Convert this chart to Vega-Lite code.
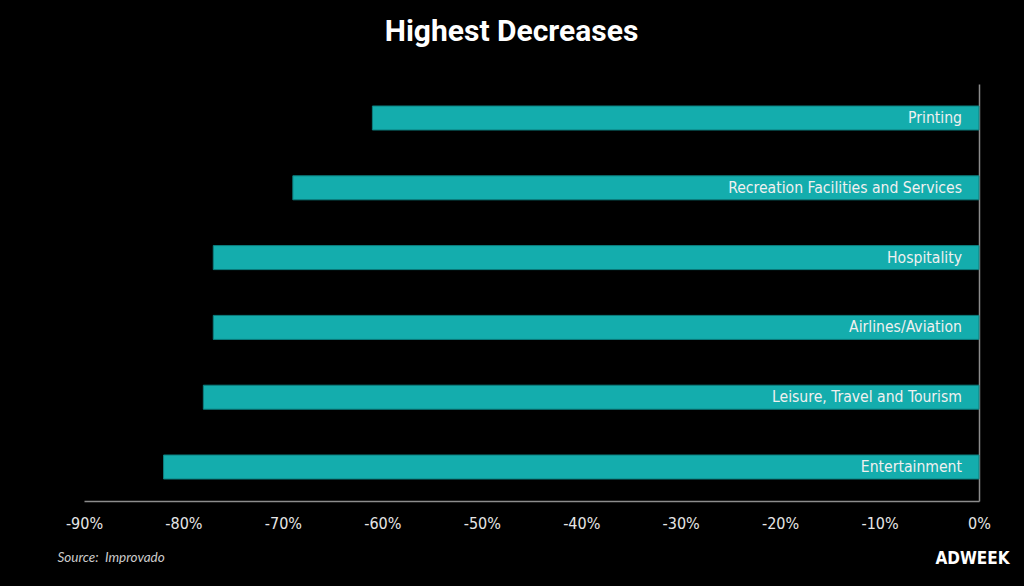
{
  "$schema": "https://vega.github.io/schema/vega-lite/v6.json",
  "width": 895,
  "height": 417,
  "autosize": {"type": "none"},
  "padding": {"left": 84, "top": 84, "right": 45, "bottom": 85},
  "background": "#000000",
  "title": {
    "text": "Highest Decreases",
    "anchor": "middle",
    "frame": "group",
    "dx": -20,
    "offset": 37,
    "font": "Roboto",
    "fontSize": 30,
    "fontWeight": "bold",
    "color": "#ffffff"
  },
  "data": {
    "values": [
      {"industry": "Printing", "change": -61},
      {"industry": "Recreation Facilities and Services", "change": -69},
      {"industry": "Hospitality", "change": -77},
      {"industry": "Airlines/Aviation", "change": -77},
      {"industry": "Leisure, Travel and Tourism", "change": -78},
      {"industry": "Entertainment", "change": -82}
    ]
  },
  "encoding": {
    "y": {
      "field": "industry",
      "type": "nominal",
      "sort": null,
      "scale": {"paddingInner": 0.656, "paddingOuter": 0.315},
      "axis": {
        "orient": "right",
        "labels": false,
        "ticks": false,
        "domainColor": "#8c8c8c",
        "domainWidth": 1.5,
        "title": "ADWEEK",
        "titleAngle": 0,
        "titleX": -7,
        "titleY": 474,
        "titleAlign": "center",
        "titleBaseline": "middle",
        "titleFont": "DejaVu Sans Condensed, DejaVu Sans, sans-serif",
        "titleFontSize": 17,
        "titleFontWeight": "bold",
        "titleColor": "#ffffff"
      }
    }
  },
  "layer": [
    {
      "mark": {"type": "bar", "color": "#14adad", "stroke": "#0c7e7e", "strokeWidth": 1},
      "encoding": {
        "x": {
          "field": "change",
          "type": "quantitative",
          "scale": {"domain": [-90, 0], "nice": false, "zero": false},
          "axis": {
            "values": [-90, -80, -70, -60, -50, -40, -30, -20, -10, 0],
            "labelExpr": "datum.value + '%'",
            "grid": false,
            "ticks": false,
            "domainColor": "#8c8c8c",
            "domainWidth": 1.5,
            "labelColor": "#e6e6e6",
            "labelFont": "DejaVu Sans Condensed, DejaVu Sans, sans-serif",
            "labelFontSize": 16,
            "labelPadding": 14,
            "labelFlush": false,
            "title": "Source:\u00a0 Improvado",
            "titleX": -27,
            "titleY": 56,
            "titleAlign": "left",
            "titleBaseline": "middle",
            "titleFont": "Lato",
            "titleFontStyle": "italic",
            "titleFontWeight": "normal",
            "titleFontSize": 13.5,
            "titleColor": "#cccccc"
          }
        }
      }
    },
    {
      "mark": {"type": "text", "align": "right", "baseline": "middle", "dx": -17, "font": "DejaVu Sans Condensed, DejaVu Sans, sans-serif", "fontSize": 15.6, "color": "#f0f0f0"},
      "encoding": {
        "x": {"datum": 0, "type": "quantitative"},
        "text": {"field": "industry"}
      }
    }
  ],
  "config": {"view": {"stroke": null}}
}
